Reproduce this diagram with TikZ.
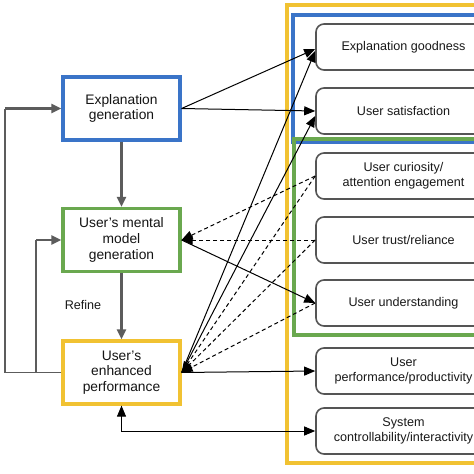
\documentclass[tikz,border=0pt]{standalone}
\usepackage{fontspec}
\setmainfont{Liberation Sans}
\usetikzlibrary{arrows.meta,positioning}
\definecolor{bblue}{HTML}{3A74C8}
\definecolor{bgreen}{HTML}{6AA84F}
\definecolor{byellow}{HTML}{F1C232}
\definecolor{bgrey}{HTML}{5C5C5C}
\definecolor{rgrey}{HTML}{555555}
\tikzset{
  leftbox/.style={draw, line width=3.2pt, minimum width=117pt, minimum height=63pt, align=center, inner sep=0pt, font=\fontsize{13.8}{15.7}\selectfont, text=black!92},
  rightbox/.style={draw=rgrey, line width=1.6pt, rounded corners=8pt, minimum width=175pt, minimum height=46pt, align=center, inner sep=0pt, font=\fontsize{12.6}{15}\selectfont, text=black!90},
  frame/.style={line width=3.4pt},
  greyarrow/.style={draw=bgrey, line width=2.4pt, -{Triangle[length=10pt,width=9pt]}},
  greyline/.style={draw=bgrey, line width=1.9pt},
  conn/.style={draw=black, line width=1pt, -{Triangle[length=11pt,width=9pt]}},
  dconn/.style={conn, dashed, dash pattern=on 4pt off 3pt},
}
\begin{document}
\begin{tikzpicture}[x=1pt,y=-1pt]
\useasboundingbox (0,0) rectangle (474,474);
\clip (0,0) rectangle (474,474);
\fill[white] (0,0) rectangle (474,474);
% frames
\draw[frame, draw=byellow] (287,5) rectangle (510,463);
\draw[frame, draw=bblue] (293,15) rectangle (510,142);
\draw[frame, draw=bgreen] (294,139) rectangle (510,335);
% left boxes
\node[leftbox, draw=bblue] (exp) at (121.5,108.5) {Explanation\\generation};
\node[leftbox, draw=bgreen] (mental) at (121.5,240) {User’s mental\\model\\generation};
\node[leftbox, draw=byellow] (perf) at (121.5,372.5) {User’s\\enhanced\\performance};
% right boxes
\node[rightbox] (good) at (403.5,47) {Explanation goodness};
\node[rightbox] (sat) at (403.5,111) {User satisfaction};
\node[rightbox] (cur) at (403.5,176) {User curiosity/\\attention engagement};
\node[rightbox] (trust) at (403.5,240) {User trust/reliance};
\node[rightbox] (under) at (403.5,303) {User understanding};
\node[rightbox] (prod) at (403.5,371) {User\\performance/productivity};
\node[rightbox] (ctrl) at (403.5,431) {System\\controllability/interactivity};
% label
\node[font=\fontsize{12.6}{15}\selectfont, text=black!90] (refine) at (83,305) {Refine};
% grey vertical arrows
\draw[greyarrow] (exp.south) -- (mental.north);
\draw[greyarrow] (mental.south) -- (perf.north);
% feedback loops
\coordinate (l1) at (5,372.5);
\coordinate (l2) at (5,108.5);
\coordinate (m1) at (36,372.5);
\coordinate (m2) at (36,240);
\draw[greyline] (perf.west) -- (l1) -- (l2);
\draw[greyarrow] (l2) -- (exp.west);
\draw[greyline] (m1) -- (m2);
\draw[greyarrow] (m2) -- (mental.west);
% explanation -> goodness / satisfaction
\draw[conn] (exp.east) -- ([yshift=-2pt]good.west);
\draw[conn] (exp.east) -- (sat.west);
% performance -> goodness / satisfaction
\draw[conn] (perf.east) -- ([yshift=-4pt]good.west);
\draw[conn] (perf.east) -- ([yshift=-5pt]sat.west);
% dashed to mental
\draw[dconn] (cur.west) -- (mental.east);
\draw[dconn] (trust.west) -- (mental.east);
% mental -> understanding
\draw[conn] (mental.east) -- (under.west);
% dashed to performance
\draw[dconn] (cur.west) -- (perf.east);
\draw[dconn] (trust.west) -- (perf.east);
\draw[dconn] (under.west) -- (perf.east);
% performance -> productivity
\draw[conn] (perf.east) -- (prod.west);
% controllability <-> performance
\coordinate (c1) at (121.5,431);
\draw[conn, {Triangle[length=11pt,width=9pt]}-{Triangle[length=11pt,width=9pt]}] (perf.south) -- (c1) -- (ctrl.west);
\end{tikzpicture}
\end{document}
